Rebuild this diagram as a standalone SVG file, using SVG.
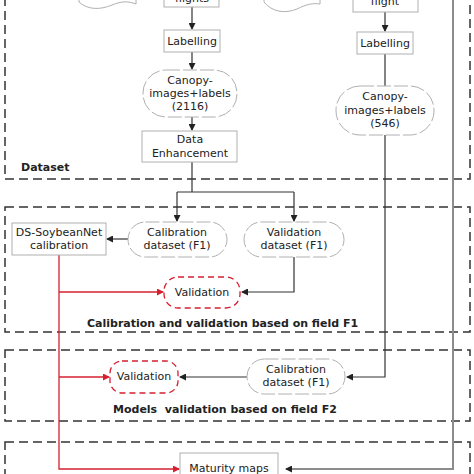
<svg xmlns="http://www.w3.org/2000/svg" width="474" height="474" viewBox="0 0 474 474">
<defs>
<marker id="ab" markerWidth="7" markerHeight="7" refX="6" refY="3.5" orient="auto" markerUnits="userSpaceOnUse"><path d="M0,0 L7,3.5 L0,7 z" fill="#222"/></marker>
<marker id="ar" markerWidth="7" markerHeight="7" refX="6" refY="3.5" orient="auto" markerUnits="userSpaceOnUse"><path d="M0,0 L7,3.5 L0,7 z" fill="#d42030"/></marker>
<marker id="ag" markerWidth="7" markerHeight="7" refX="6" refY="3.5" orient="auto" markerUnits="userSpaceOnUse"><path d="M0,0 L7,3.5 L0,7 z" fill="#222"/></marker>
</defs>
<style>
text{font-family:"DejaVu Sans",Verdana,sans-serif;font-size:11px;fill:#222;text-anchor:middle}
.b{font-weight:bold;text-anchor:start}
.grp{fill:none;stroke:#333;stroke-width:1.5;stroke-dasharray:9,5}
.box{fill:#fff;stroke:#b0b0b0;stroke-width:1}
.pill{fill:#fff;stroke:#b0b0b0;stroke-width:1;stroke-dasharray:14,3}
.rpill{fill:#fff;stroke:#d42030;stroke-width:1.3;stroke-dasharray:6,4}
.doc{fill:none;stroke:#b0b0b0;stroke-width:1}
.c{fill:none;stroke:#333;stroke-width:1.2}
.r{fill:none;stroke:#d42030;stroke-width:1.3}
.g{fill:none;stroke:#8c8c8c;stroke-width:2}
</style>
<rect width="474" height="474" fill="#fff"/>
<g id="groups">
<rect class="grp" x="5" y="-20" width="465" height="199"/>
<rect class="grp" x="5" y="207" width="465" height="125"/>
<rect class="grp" x="5" y="350" width="465" height="71"/>
<rect class="grp" x="5" y="442" width="465" height="50"/>
<text class="b" x="21" y="171">Dataset</text>
<text class="b" x="87" y="327">Calibration and validation based on field F1</text>
<text class="b" x="113" y="413" xml:space="preserve">Models  validation based on field F2</text>
</g>
<g id="connectors">
<path class="g" d="M453,0 V469 H286" marker-end="url(#ag)"/>
<path class="c" d="M192,7 V29" marker-end="url(#ab)"/>
<path class="c" d="M192,52 V69" marker-end="url(#ab)"/>
<path class="c" d="M192,117 V130" marker-end="url(#ab)"/>
<path class="c" d="M385,12 V31" marker-end="url(#ab)"/>
<path class="c" d="M385,54 V86"/>
<path class="c" d="M385,135 V377 H347" marker-end="url(#ab)"/>
<path class="c" d="M192,162 V192"/>
<path class="c" d="M177,192 H294"/>
<path class="c" d="M177,192 V221" marker-end="url(#ab)"/>
<path class="c" d="M294,192 V221" marker-end="url(#ab)"/>
<path class="c" d="M128,239 H107" marker-end="url(#ab)"/>
<path class="c" d="M294,257 V292 H242" marker-end="url(#ab)"/>
<path class="c" d="M247,377 H180" marker-end="url(#ab)"/>
<path class="r" d="M59,255 V469 H179" marker-end="url(#ar)"/>
<path class="r" d="M59,292 H163" marker-end="url(#ar)"/>
<path class="r" d="M59,377 H109" marker-end="url(#ar)"/>
</g>
<g id="doc1"><path class="doc" d="M79,-5 V2 C88,10 100,10 112,5 C122,1 128,1 136,4 V-5"/></g>
<g id="doc2"><path class="doc" d="M264,-5 V2 C272,12 285,14 297,9 C307,4 313,3 320,4 V-5"/></g>
<g id="flights1"><rect class="box" x="164" y="-20" width="55" height="27"/><text x="192" y="1.5">flights</text></g>
<g id="flight2"><rect class="box" x="353" y="-20" width="65" height="32"/><text x="385" y="4.5">flight</text></g>
<g id="label1"><rect class="box" x="164" y="30" width="56" height="22"/><text x="192" y="45">Labelling</text></g>
<g id="label2"><rect class="box" x="357" y="32" width="56" height="22"/><text x="385" y="47">Labelling</text></g>
<g id="canopy1"><rect class="pill" x="143" y="70" width="94" height="47" rx="23" ry="23"/><text x="190" y="84">Canopy-</text><text x="190" y="97">images+labels</text><text x="190" y="110">(2116)</text></g>
<g id="canopy2"><rect class="pill" x="336" y="86" width="98" height="49" rx="24" ry="24"/><text x="385" y="100">Canopy-</text><text x="385" y="114">images+labels</text><text x="385" y="127">(546)</text></g>
<g id="enh"><rect class="box" x="142" y="131" width="95" height="31"/><text x="190" y="143">Data</text><text x="190" y="157">Enhancement</text></g>
<g id="ds"><rect class="box" x="12" y="223" width="94" height="32"/><text x="59" y="236">DS-SoybeanNet</text><text x="59" y="249">calibration</text></g>
<g id="cal1"><rect class="pill" x="128" y="222" width="99" height="35" rx="17.5" ry="17.5"/><text x="177" y="236">Calibration</text><text x="177" y="249">dataset (F1)</text></g>
<g id="val1"><rect class="pill" x="244" y="222" width="100" height="35" rx="17.5" ry="17.5"/><text x="294" y="236">Validation</text><text x="294" y="249">dataset (F1)</text></g>
<g id="valr1"><rect class="rpill" x="164" y="277" width="76" height="31" rx="14" ry="14"/><text x="202" y="296">Validation</text></g>
<g id="valr2"><rect class="rpill" x="110" y="361" width="68" height="32" rx="12" ry="12"/><text x="144" y="380">Validation</text></g>
<g id="cal2"><rect class="pill" x="247" y="359" width="98" height="35" rx="17.5" ry="17.5"/><text x="296" y="373">Calibration</text><text x="296" y="386">dataset (F1)</text></g>
<g id="maps"><rect class="box" x="180" y="453" width="98" height="40"/><text x="229" y="472">Maturity maps</text></g>
</svg>
